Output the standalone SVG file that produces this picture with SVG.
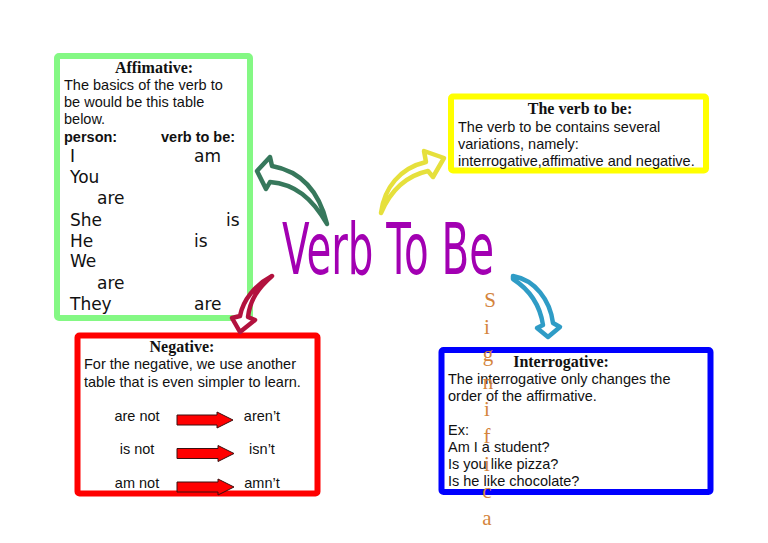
<svg xmlns="http://www.w3.org/2000/svg" width="768" height="543" viewBox="0 0 768 543">
<defs>
<style>
.box{fill:#ffffff;stroke-width:6;stroke-linejoin:round}
.ttl{font-family:"Liberation Serif",serif;font-weight:bold;font-size:16px;fill:#111;text-anchor:middle}
.body{font-family:"Liberation Sans",Arial,sans-serif;font-size:14.5px;fill:#111}
.hdr{font-family:"Liberation Sans",Arial,sans-serif;font-size:14.5px;font-weight:bold;fill:#111}
.tbl{font-family:"DejaVu Sans",sans-serif;font-size:17px;fill:#111}
.neg{font-family:"Liberation Sans",Arial,sans-serif;font-size:14.5px;fill:#111;text-anchor:middle}
.blk{fill:#ff0000;stroke:#3a1010;stroke-width:1}
.curve{fill:#ffffff;stroke-width:4.5;stroke-linejoin:round}
.sig{font-family:"Liberation Serif",serif;font-size:21px;fill:#d4843c;text-anchor:middle}
</style>
</defs>
<rect width="768" height="543" fill="#ffffff"/>

<g id="affirmative">
<rect class="box" x="57" y="56" width="193" height="262" rx="2" stroke="#84f884" stroke-width="5"/>
<text class="ttl" x="154" y="73">Affimative:</text>
<text class="body" x="64" y="90">The basics of the verb to</text>
<text class="body" x="64" y="107">be would be this table</text>
<text class="body" x="64" y="124">below.</text>
<text class="hdr" x="64" y="142">person:</text>
<text class="hdr" x="161" y="142">verb to be:</text>
<text class="tbl" x="70" y="162">I</text>
<text class="tbl" x="194" y="162">am</text>
<text class="tbl" x="70" y="183">You</text>
<text class="tbl" x="97" y="204">are</text>
<text class="tbl" x="70" y="226">She</text>
<text class="tbl" x="226" y="226">is</text>
<text class="tbl" x="70" y="247">He</text>
<text class="tbl" x="194" y="247">is</text>
<text class="tbl" x="70" y="267">We</text>
<text class="tbl" x="97" y="289">are</text>
<text class="tbl" x="70" y="310">They</text>
<text class="tbl" x="194" y="310">are</text>
</g>

<g id="verb-to-be">
<rect class="box" x="451" y="96.5" width="255" height="74" rx="2" stroke="#ffff00"/>
<text class="ttl" x="580" y="114">The verb to be:</text>
<text class="body" x="458" y="132">The verb to be contains several</text>
<text class="body" x="458" y="149">variations, namely:</text>
<text class="body" x="458" y="166">interrogative,affimative and negative.</text>
</g>

<g id="negative">
<rect class="box" x="77.5" y="335.5" width="240" height="158" rx="2" stroke="#ff0000" stroke-width="5"/>
<text class="ttl" x="182" y="352">Negative:</text>
<text class="body" x="84" y="369">For the negative, we use another</text>
<text class="body" x="84" y="387">table that is even simpler to learn.</text>
<text class="neg" x="137" y="421">are not</text>
<text class="neg" x="262" y="421">aren’t</text>
<text class="neg" x="137" y="454">is not</text>
<text class="neg" x="262" y="454">isn’t</text>
<text class="neg" x="137" y="488">am not</text>
<text class="neg" x="262" y="488">amn’t</text>
<path class="blk" d="M177,415 L217,415 L217,412 L233,420 L217,428 L217,425 L177,425 Z"/>
<path class="blk" d="M177,448.5 L218,448.5 L218,445.5 L234,453.5 L218,461.5 L218,458.5 L177,458.5 Z"/>
<path class="blk" d="M177,482 L218,482 L218,479 L234,487 L218,495 L218,492 L177,492 Z"/>
</g>

<g id="interrogative">
<rect class="box" x="441.5" y="350" width="269" height="142" rx="2" stroke="#0000ff"/>
<text class="ttl" x="561" y="367">Interrogative:</text>
<text class="body" x="448" y="384">The interrogative only changes the</text>
<text class="body" x="448" y="401">order of the affirmative.</text>
<text class="body" x="448" y="435">Ex:</text>
<text class="body" x="448" y="452">Am I a student?</text>
<text class="body" x="448" y="469">Is you like pizza?</text>
<text class="body" x="448" y="486">Is he like chocolate?</text>
</g>

<g id="title">
<text x="282" y="274" font-family="'DejaVu Sans',sans-serif" font-size="71" fill="#a200b2" textLength="212" lengthAdjust="spacingAndGlyphs">Verb To Be</text>
</g>

<g id="connectors">
<path class="curve" stroke="#37785c" d="M327,224 C320,195 305,172 272,166 L270,157 L257,171 L266,189 L270,182 C295,184 312,198 327,224 Z"/>
<path class="curve" stroke="#e6e03c" d="M381,213 C384,188 400,168 426,162 L424,151 L444,158 L433,177 L428,171 C405,176 390,192 381,213 Z"/>
<path class="curve" stroke="#b2123e" d="M272,276 C255,285 243,300 240,316 L232,318 L240,332 L255,320 L248,317 C250,300 258,288 272,276 Z"/>
<path class="curve" stroke="#2f9cc6" d="M513,276 C535,280 550,300 553,323 L560,327 L548,337 L537,328 L543,325 C540,305 530,290 513,279 Z"/>
</g>

<g id="significa">
<text class="sig" x="490" y="307">S</text>
<text class="sig" x="487" y="334">i</text>
<text class="sig" x="488" y="361">g</text>
<text class="sig" x="488" y="389">n</text>
<text class="sig" x="487" y="416">i</text>
<text class="sig" x="487" y="443">f</text>
<text class="sig" x="487" y="471">i</text>
<text class="sig" x="487" y="498">c</text>
<text class="sig" x="487" y="525">a</text>
</g>
</svg>
